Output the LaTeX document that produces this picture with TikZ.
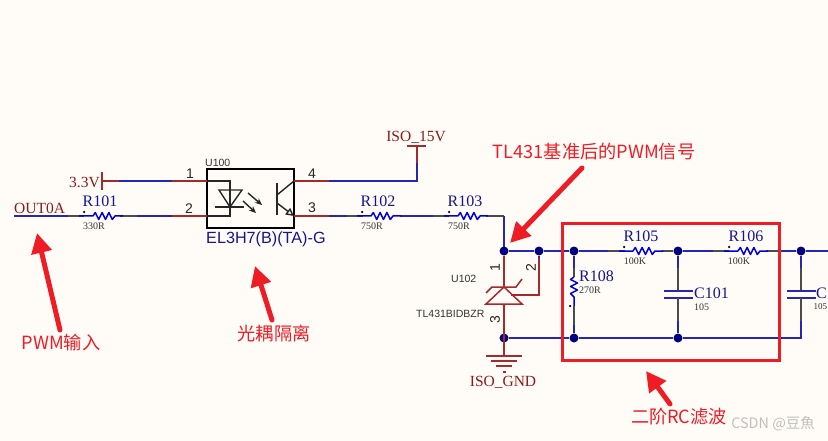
\documentclass[tikz,border=0pt]{standalone}
\usepackage{fontspec}
\setmainfont{Liberation Serif}
\newfontfamily\lsans{Liberation Sans}
\newfontfamily\cjkf{Noto Sans CJK SC}
\usetikzlibrary{arrows.meta}
\definecolor{bgc}{HTML}{FFFCF8}
\definecolor{wireb}{HTML}{2626B0}
\definecolor{wirer}{HTML}{A52A2A}
\definecolor{lblb}{HTML}{16168C}
\definecolor{lblr}{HTML}{8C1A1A}
\definecolor{jct}{HTML}{000080}
\definecolor{annot}{HTML}{EE1C25}
\tikzset{
  bw/.style={draw=wireb,line width=1.5pt},
  rw/.style={draw=wirer,line width=1.5pt},
  kw/.style={draw=black!70,line width=1.3pt},
  sym/.style={draw=black!85,line width=1.4pt},
  junction/.style={circle,fill=jct,inner sep=0pt,minimum size=9pt},
  refdes/.style={font=\fontsize{16}{16}\selectfont,text=lblb,inner sep=0pt},
  val/.style={font=\fontsize{10}{10}\selectfont,text=black!80,inner sep=0pt},
  netl/.style={font=\fontsize{15.5}{16}\selectfont,text=lblr,inner sep=0pt},
  pinl/.style={font=\lsans\fontsize{14}{14}\selectfont,text=black!85,inner sep=0pt},
  partl/.style={font=\lsans\fontsize{10.5}{11}\selectfont,text=black!80,inner sep=0pt},
  annotl/.style={font=\cjkf\fontsize{18.2}{19}\selectfont,text=annot,inner sep=0pt},
  annota/.style={draw=annot,line width=5pt,line cap=round,-{Triangle[length=20pt,width=20pt]}},
  zig/.pic={\draw[draw=blue!85!black,line width=1.5pt,line join=round]
     (-14,0)--(0,0)--(2.3,-3.5)--(5.7,3.5)--(9.1,-3.5)--(12.5,3.5)--(15.9,-3.5)--(19.3,3.5)--(22,0)--(30,0);},
  pdot/.style={circle,fill=black,inner sep=0pt,minimum size=2.5pt},
}
\begin{document}
\begin{tikzpicture}[x=1pt,y=-1pt]
\useasboundingbox (0,0) rectangle (828,441);
\fill[bgc] (0,0) rectangle (828,441);

% named points
\coordinate (vcc) at (102,181);
\coordinate (outa) at (14,216);
\coordinate (p1) at (207,181);
\coordinate (p2) at (207,216);
\coordinate (p4) at (294,181);
\coordinate (p3) at (294,216);
\coordinate (iso) at (417,146);
\coordinate (bend) at (504,216);
\coordinate (gnd) at (504,356);
\coordinate (corner) at (801,338);
\coordinate (rend) at (828,251);

% optocoupler
\node[draw=black,line width=2pt,minimum width=87pt,minimum height=59pt,inner sep=0pt] (u100) at (250.5,198.5) {};

% wires
\draw[bw] (outa) -- (68,216);
\draw[kw] (68,216) -- (84,216);
\draw[kw] (120,216) -- (137,216);
\draw[bw] (137,216) -- (172,216);
\draw[rw] (172,216) -- (p2);
\draw[rw] (vcc) -- (119,181);
\draw[bw] (119,181) -- (172,181);
\draw[rw] (172,181) -- (p1);
\draw[rw,line width=2pt] (102,172) -- (102,190);
\draw[rw] (p4) -- (329,181);
\draw[bw] (329,181) -- (417,181) -- (417,163);
\draw[rw] (417,163) -- (iso);
\draw[rw,line width=2pt] (407,146) -- (426,146);
\draw[rw] (p3) -- (329,216);
\draw[bw] (329,216) -- (347,216);
\draw[kw] (347,216) -- (363,216);
\draw[bw] (400,216) -- (433,216);
\draw[kw] (433,216) -- (449,216);
\draw[kw] (486,216) -- (bend);
\draw[bw] (bend) -- (504,251);

\pic at (93,216) {zig};
\pic at (371,216) {zig};
\pic at (458,216) {zig};

% optocoupler symbol
\draw[sym] (p1) -- (230,181) -- (230,216) -- (p2);
\draw[sym] (219,190) -- (242,190) -- (230,207) -- cycle;
\draw[sym] (215,207) -- (244,207);
\draw[sym,-{Stealth[length=7pt,width=6pt]}] (248,193) -- (262,205);
\draw[sym,-{Stealth[length=7pt,width=6pt]}] (243,201) -- (256,213);
\draw[sym] (277,183) -- (277,215);
\draw[sym] (277,195) -- (p4);
\draw[sym,-{Triangle[open,length=8pt,width=8pt]}] (277,203) -- (p3);

% rails
\node[junction] (j1) at (504,251) {};
\node[junction] (j2) at (539,251) {};
\node[junction] (j3) at (574,251) {};
\node[junction] (j4) at (678,251) {};
\node[junction] (j5) at (801,251) {};
\node[junction] (j6) at (504,338) {};
\node[junction] (j7) at (574,338) {};
\node[junction] (j8) at (678,338) {};
\draw[bw] (j1) -- (j2);
\draw[bw] (j2) -- (j3);
\draw[bw] (j3) -- (608,251);
\draw[kw] (608,251) -- (625,251);
\draw[kw] (662,251) -- (j4);
\draw[bw] (j4) -- (713,251);
\draw[kw] (713,251) -- (729,251);
\draw[kw] (766,251) -- (782,251);
\draw[bw] (782,251) -- (j5);
\draw[bw] (j5) -- (rend);
\draw[bw] (j6) -- (j7);
\draw[bw] (j7) -- (j8);
\draw[bw] (j8) -- (corner) -- (801,321);
\pic at (633,251) {zig};
\pic at (738,251) {zig};

% TL431
\draw[rw] (j1) -- (504,286);
\draw[rw] (504,304) -- (gnd);
\draw[rw] (486,304) -- (522,304) -- (504,287) -- cycle;
\draw[rw] (486,293) -- (492,287) -- (516,287) -- (522,279);
\draw[bw] (j2) -- (539,258);
\draw[rw] (539,258) -- (539,295) -- (511,295);
\draw[rw,line width=1.8pt] (486,356) -- (522,356);
\draw[rw,line width=1.8pt] (491,361) -- (517,361);
\draw[rw,line width=1.5pt] (496,366) -- (512,366);
\draw[rw,line width=1.5pt] (503,372) -- (506,372);

% R108
\draw[bw] (j3) -- (574,268);
\draw[kw] (574,268) -- (574,277);
\draw[blue!85!black,line width=1.5pt,line join=round] (574,277) -- (570.5,279.5) -- (577.5,283) -- (570.5,286.5) -- (577.5,290) -- (570.5,293.5) -- (574,297) -- (574,306);
\draw[kw] (574,306) -- (574,325);
\draw[bw] (574,325) -- (j7);

% C101
\draw[bw] (j4) -- (678,268);
\draw[kw] (678,268) -- (678,291);
\draw[bw,line width=2pt] (664,291) -- (693,291);
\draw[bw,line width=2pt] (664,298) -- (693,298);
\draw[kw] (678,298) -- (678,321);
\draw[bw] (678,321) -- (j8);

% second capacitor
\draw[bw] (j5) -- (801,268);
\draw[kw] (801,268) -- (801,291);
\draw[bw,line width=2pt] (787,291) -- (816,291);
\draw[bw,line width=2pt] (787,298) -- (816,298);
\draw[kw] (801,298) -- (801,321);

% pin dots
\node[pdot] (d1) at (84,212) {};
\node[pdot] (d2) at (362,212) {};
\node[pdot] (d3) at (449,212) {};
\node[pdot] (d4) at (624,247) {};
\node[pdot] (d5) at (729,247) {};
\node[pdot] (d6) at (570,306) {};

% labels
\node[netl,anchor=west] (l1) at (14,208) {OUT0A};
\node[netl,anchor=east] (l2) at (100,182.5) {3.3V};
\node[netl] (l3) at (416,137) {ISO\_15V};
\node[netl] (l4) at (503,382) {ISO\_GND};
\node[refdes] (r1) at (100,201) {R101};
\node[val] (v1) at (94,226) {330R};
\node[refdes] (r2) at (378,201) {R102};
\node[val] (v2) at (372,226) {750R};
\node[refdes] (r3) at (465,201) {R103};
\node[val] (v3) at (459,226) {750R};
\node[refdes] (r5) at (641,236) {R105};
\node[val] (v5) at (635,261) {100K};
\node[refdes] (r6) at (746,236) {R106};
\node[val] (v6) at (739,261) {100K};
\node[refdes,anchor=west] (r8) at (579,276) {R108};
\node[val,anchor=west] (v8) at (579,290) {270R};
\node[refdes,anchor=west] (c1) at (694,293) {C101};
\node[val,anchor=west] (v9) at (694,307) {105};
\node[refdes,anchor=west] (c2) at (816,293) {C};
\node[val,anchor=west,font=\fontsize{9}{9}\selectfont] (v10) at (813.5,307) {105};
\node[pinl] (n1) at (190,174) {1};
\node[pinl] (n2) at (189,209) {2};
\node[pinl] (n4) at (312,174) {4};
\node[pinl] (n3) at (312,208) {3};
\node[pinl,rotate=90] (n5) at (495,268) {1};
\node[pinl,rotate=90] (n6) at (531,268) {2};
\node[pinl,rotate=90] (n7) at (495,320) {3};
\node[partl,anchor=west] (u1) at (205,162.5) {U100};
\node[font=\lsans\fontsize{16.2}{17}\selectfont,text=lblb,inner sep=0pt,anchor=west] (u2) at (206,239) {EL3H7(B)(TA)-G};
\node[partl,anchor=west] (u3) at (451,279) {U102};
\node[partl,anchor=west] (u4) at (416,314) {TL431BIDBZR};

% annotation box
\node[draw=annot,line width=3pt,minimum width=217pt,minimum height=137pt,inner sep=0pt] (rcbox) at (671,292) {};

% annotations
\node[annotl] (a1) at (61,343) {PWM输入};
\node[annotl] (a2) at (274,334) {光耦隔离};
\node[annotl] (a3) at (594,152) {TL431基准后的PWM信号};
\node[annotl] (a4) at (679,417) {二阶RC滤波};
\coordinate (t1) at (60,330);
\coordinate (h1) at (37,233);
\coordinate (t2) at (272,320);
\coordinate (h2) at (255,266);
\coordinate (t3) at (582,168);
\coordinate (h3) at (510,243);
\coordinate (t4) at (670,404);
\coordinate (h4) at (646,371);
\draw[annota] (t1) -- (h1);
\draw[annota] (t2) -- (h2);
\draw[annota] (t3) -- (h3);
\draw[annota] (t4) -- (h4);

\node[font=\cjkf\fontsize{14.4}{15}\selectfont,text=black!25,inner sep=0pt] (wm) at (773,424) {CSDN @豆魚};
\end{tikzpicture}
\end{document}
